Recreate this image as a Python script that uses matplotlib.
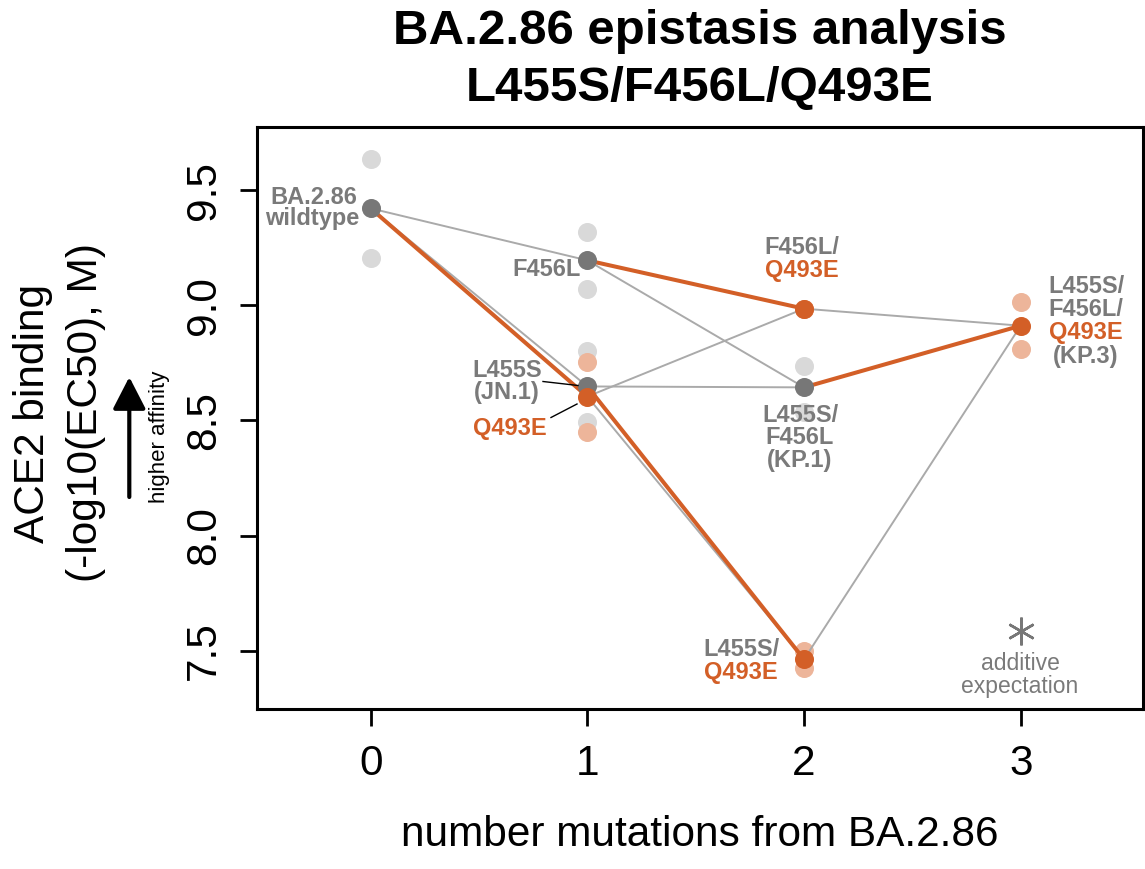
import matplotlib
matplotlib.use("Agg")
import matplotlib.pyplot as plt
import numpy as np

plt.rcParams['font.family'] = ['Liberation Sans', 'DejaVu Sans']

# ---- data ----
genotypes = ["BA.2.86", "F456L", "L455S", "Q493E",
             "F456L/Q493E", "L455S/F456L", "L455S/Q493E", "L455S/F456L/Q493E"]
n_mut = [0, 1, 1, 1, 2, 2, 2, 3]
mean_binding = [9.422, 9.196, 8.648, 8.604, 8.986, 8.644, 7.462, 8.912]
rep1_binding = [9.637, 9.318, 8.800, 8.754, 8.986, 8.739, 7.500, 9.013]
rep2_binding = [9.208, 9.071, 8.494, 8.451, 8.986, 8.539, 7.423, 8.810]
additive_expectation_x = [3]
additive_expectation_y = [7.585]
yticks = [7.5, 8.0, 8.5, 9.0, 9.5]
xticks = [0, 1, 2, 3]

ORANGE = "#D35F27"
ORANGE_LIGHT = "#EDB59A"
GREY_DOT = "#777777"
GREY_LIGHT = "#D9D9D9"
GREY_LINE = "#AAAAAA"
GREY_TEXT = "#7A7A7A"

W, H = 1145, 869
fig = plt.figure(figsize=(W / 100, H / 100), dpi=100)
ax_l, ax_r, ax_t, ax_b = 256.7, 1142.7, 126.7, 709.0
ax = fig.add_axes([ax_l / W, 1 - ax_b / H, (ax_r - ax_l) / W, (ax_b - ax_t) / H])
ax.set_xlim(-0.526, 3.563)
ax.set_ylim(7.246, 9.777)

muts = [set(g.split("/")) if g != "BA.2.86" else set() for g in genotypes]
has_q = ["Q493E" in m for m in muts]

# replicates
for i in range(len(genotypes)):
    c = ORANGE_LIGHT if has_q[i] else GREY_LIGHT
    ax.plot([n_mut[i]] * 2, [rep1_binding[i], rep2_binding[i]], 'o', ms=13.7,
            color=c, mec='none', zorder=2, linestyle='none')

# edges between genotypes differing by one mutation
grey_edges, orange_edges = [], []
for i in range(len(genotypes)):
    for j in range(len(genotypes)):
        if n_mut[j] == n_mut[i] + 1 and muts[i] < muts[j]:
            added = list(muts[j] - muts[i])[0]
            (orange_edges if added == "Q493E" else grey_edges).append((i, j))
for i, j in grey_edges:
    ax.plot([n_mut[i], n_mut[j]], [mean_binding[i], mean_binding[j]],
            color=GREY_LINE, lw=1.4, zorder=3, solid_capstyle='butt')
for i, j in orange_edges:
    ax.plot([n_mut[i], n_mut[j]], [mean_binding[i], mean_binding[j]],
            color=ORANGE, lw=2.9, zorder=4, solid_capstyle='butt')

for i in range(len(genotypes)):
    c = ORANGE if has_q[i] else GREY_DOT
    ax.plot(n_mut[i], mean_binding[i], 'o', ms=13.7, color=c, mec='none', zorder=5)

# additive expectation legend marker
ax.plot(additive_expectation_x, additive_expectation_y, marker=(6, 2, 0), ms=20,
        mew=1.8, color=GREY_DOT, linestyle='none', zorder=5)

# ---- axes styling ----
for s in ax.spines.values():
    s.set_linewidth(2.2)
ax.set_xticks(xticks)
ax.set_yticks(yticks)
ax.set_xticklabels([str(x) for x in xticks])
ax.set_yticklabels([f"{y:.1f}" for y in yticks], rotation=90, va='center')
ax.tick_params(axis='both', length=12.5, width=2.0, labelsize=30.5, pad=13)
ax.tick_params(axis='y', pad=11)


def px(x, y):
    return x / W, 1 - y / H


def lab(x, y, s, color=GREY_TEXT, ha='center', size=17, weight='bold'):
    fig.text(*px(x, y), s, color=color, ha=ha, va='center', fontsize=size,
             fontweight=weight, zorder=10)


# point labels
lab(357, 197, "BA.2.86", ha='right')
lab(359, 218, "wildtype", ha='right')
lab(581, 270, "F456L", ha='right')
lab(542, 370, "L455S", ha='right')
lab(540, 392, "(JN.1)", ha='right')
lab(547, 428, "Q493E", color=ORANGE, ha='right')
lab(802, 248, "F456L/")
lab(802, 271, "Q493E", color=ORANGE)
lab(800, 415, "L455S/")
lab(800, 438, "F456L")
lab(800, 461, "(KP.1)")
lab(1086, 287, "L455S/")
lab(1086, 310, "F456L/")
lab(1086, 333, "Q493E", color=ORANGE)
lab(1086, 356, "(KP.3)")
lab(780, 650, "L455S/", ha='right')
lab(778, 672, "Q493E", color=ORANGE, ha='right')
lab(1020, 663, "additive", size=16.5, weight='normal')
lab(1020, 686, "expectation", size=16.5, weight='normal')

# leader lines
fig.add_artist(plt.Line2D([543 / W, 578 / W], [1 - 381.5 / H, 1 - 385.5 / H],
                          color='black', lw=1.0))
fig.add_artist(plt.Line2D([551 / W, 577 / W], [1 - 417.5 / H, 1 - 404 / H],
                          color='black', lw=1.0))

# title
fig.text(*px(700, 32), "BA.2.86 epistasis analysis", ha='center', va='center',
         fontsize=35.5, fontweight='bold')
fig.text(*px(700, 88), "L455S/F456L/Q493E", ha='center', va='center',
         fontsize=35.5, fontweight='bold')

# axis labels
fig.text(*px(700, 835), "number mutations from BA.2.86", ha='center', va='center',
         fontsize=30.5)
fig.text(*px(33, 413), "ACE2 binding", ha='center', va='center', rotation=90,
         fontsize=30.5)
fig.text(*px(86, 413), "(-log10(EC50), M)", ha='center', va='center', rotation=90,
         fontsize=30.5)
fig.text(*px(160, 437), "higher affinity", ha='center', va='center', rotation=90,
         fontsize=16)
fig.add_artist(matplotlib.patches.FancyArrowPatch(
    px(129.3, 497), px(129.3, 377), transform=fig.transFigure,
    arrowstyle='-|>,head_length=1.4,head_width=0.72', mutation_scale=14,
    lw=3.0, color='black', shrinkA=0, shrinkB=0))

fig.savefig("out.png", dpi=100)
